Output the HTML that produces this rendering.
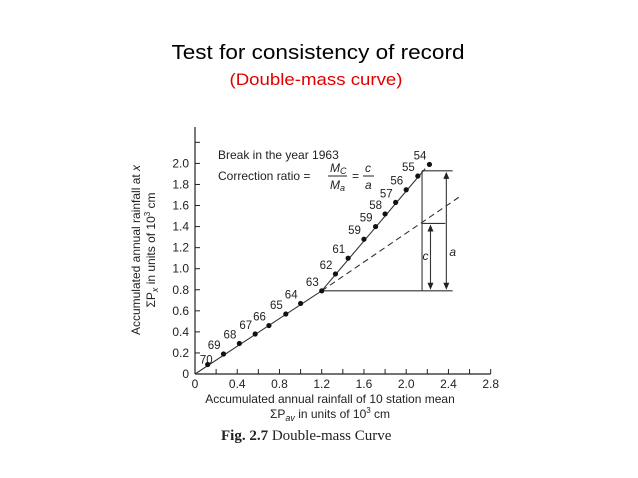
<!DOCTYPE html>
<html><head><meta charset="utf-8"><style>
body{margin:0;background:#fff;width:638px;height:478px;overflow:hidden}
svg{display:block;font-family:"Liberation Sans",sans-serif}
</style></head><body>
<svg id="chart" width="638" height="478" viewBox="0 0 638 478">
<text x="318" y="59" font-size="20" text-anchor="middle" textLength="293" lengthAdjust="spacingAndGlyphs">Test for consistency of record</text>
<text x="316" y="85" font-size="17" fill="#e00000" text-anchor="middle" textLength="173" lengthAdjust="spacingAndGlyphs">(Double-mass curve)</text>
<g id="plot"></g>
<text x="330" y="403" font-size="12" text-anchor="middle" fill="#222">Accumulated annual rainfall of 10 station mean</text>
<text x="330" y="418" font-size="12" text-anchor="middle" fill="#222">ΣP<tspan font-style="italic" font-size="9" dy="3">av</tspan><tspan dy="-3"> in units of 10</tspan><tspan font-size="8" dy="-5">3</tspan><tspan dy="5"> cm</tspan></text>
<text transform="translate(140,250) rotate(-90)" font-size="12" text-anchor="middle" fill="#222">Accumulated annual rainfall at <tspan font-style="italic">x</tspan></text>
<text transform="translate(155,250) rotate(-90)" font-size="12" text-anchor="middle" fill="#222">ΣP<tspan font-style="italic" font-size="9" dy="3">x</tspan><tspan dy="-3"> in units of 10</tspan><tspan font-size="8" dy="-5">3</tspan><tspan dy="5"> cm</tspan></text>
<text x="218" y="159" font-size="12" fill="#222">Break in the year 1963</text>
<text x="218" y="180" font-size="12" fill="#222">Correction ratio = </text>
<text x="330" y="172" font-size="12" fill="#222" font-style="italic">M<tspan font-size="9" dy="2">C</tspan></text>
<line x1="328" y1="176" x2="347" y2="176" stroke="#222"/>
<text x="330" y="189" font-size="12" fill="#222" font-style="italic">M<tspan font-size="9" dy="2">a</tspan></text>
<text x="352" y="180" font-size="12" fill="#222">=</text>
<text x="365" y="172" font-size="12" fill="#222" font-style="italic">c</text>
<line x1="363" y1="176" x2="374" y2="176" stroke="#222"/>
<text x="365" y="189" font-size="12" fill="#222" font-style="italic">a</text>
<text x="221" y="440" font-size="15" font-family="Liberation Serif,serif" fill="#222"><tspan font-weight="bold">Fig. 2.7</tspan>    Double-mass Curve</text>
</svg>
<script>
const xVals=[0.12,0.27,0.42,0.57,0.70,0.86,1.0,1.2,1.33,1.45,1.60,1.71,1.80,1.90,2.0,2.11,2.22];
const yVals=[0.09,0.19,0.29,0.38,0.46,0.57,0.67,0.79,0.95,1.10,1.28,1.40,1.52,1.63,1.75,1.88,1.99];
const yearLabels=["70","69","68","67","66","65","64","63","62","61","59","59","58","57","56","55","54"];
const xTicks=["0","0.4","0.8","1.2","1.6","2.0","2.4","2.8"];
const yTicks=["0","0.2","0.4","0.6","0.8","1.0","1.2","1.4","1.6","1.8","2.0"];
const NS="http://www.w3.org/2000/svg";
const g=document.getElementById('plot');
const X=v=>195+v*105.6, Y=v=>374-v*105.3;
function mk(t,a,p){const e=document.createElementNS(NS,t);for(const k in a)e.setAttribute(k,a[k]);(p||g).appendChild(e);return e;}
let e;
e=mk('line',{x1:X(0),y1:Y(0),x2:X(2.8),y2:Y(0),stroke:'#222','stroke-width':1.2});


e=mk('line',{x1:X(0),y1:Y(0),x2:X(0),y2:127,stroke:'#222','stroke-width':1.2});


for(let i=0;i<=14;i++){e=mk('line',{x1:X(i*0.2),y1:Y(0),x2:X(i*0.2),y2:Y(0)-5,stroke:'#222'});

}
xTicks.forEach(t=>{e=mk('text',{x:X(+t),y:Y(0)+14,'font-size':12,'text-anchor':'middle',fill:'#222'});e.textContent=t;

});
for(let i=0;i<=11;i++){e=mk('line',{x1:X(0),y1:Y(i*0.2),x2:X(0)+5,y2:Y(i*0.2),stroke:'#222'});

}
yTicks.forEach(t=>{e=mk('text',{x:X(0)-6,y:Y(+t)+4,'font-size':12,'text-anchor':'end',fill:'#222'});e.textContent=t;

});
const L=(a,b,c,d,dash,name)=>{e=mk('line',{x1:X(a),y1:Y(b),x2:X(c),y2:Y(d),stroke:'#333','stroke-width':1.1});if(dash)e.setAttribute('stroke-dasharray','6,4');

};
L(0,0,1.2,0.79,0,'trend-line-before-break');
L(1.2,0.79,2.18,1.95,0,'trend-line-after-break');
L(1.2,0.79,2.53,1.70,1,'extrapolated-dashed-line');
L(1.2,0.79,2.44,0.79,0,'base-horizontal-line');
L(2.15,0.79,2.15,1.93,0,'vertical-line');
L(2.15,1.93,2.44,1.93,0,'top-horizontal-line');
L(2.15,1.43,2.37,1.43,0,'middle-horizontal-line');
L(2.23,0.82,2.23,1.40,0,'c-arrow');
L(2.38,0.82,2.38,1.90,0,'a-arrow');
function arrow(x,y,up){const px=X(x),py=Y(y),d=up?7:-7;e=mk('polygon',{points:`${px},${py} ${px-3},${py+d} ${px+3},${py+d}`,fill:'#222'});

}
arrow(2.23,1.42,true);arrow(2.23,0.80,false);arrow(2.38,1.92,true);arrow(2.38,0.80,false);
e=mk('text',{x:X(2.23)-8,y:Y(1.12)+4,'font-size':12,'font-style':'italic',fill:'#222'});e.textContent='c';


e=mk('text',{x:X(2.38)+3,y:Y(1.12),'font-size':12,'font-style':'italic',fill:'#222'});e.textContent='a';


xVals.forEach((v,i)=>{e=mk('circle',{cx:X(v),cy:Y(yVals[i]),r:2.6,fill:'#111'});


const first=i===0;
e=mk('text',{x:first?X(v)+5:X(v)-3,y:first?Y(yVals[i])-1:Y(yVals[i])-5,'font-size':11.5,'text-anchor':'end',fill:'#222'});e.textContent=yearLabels[i];

});
</script>
</body></html>
